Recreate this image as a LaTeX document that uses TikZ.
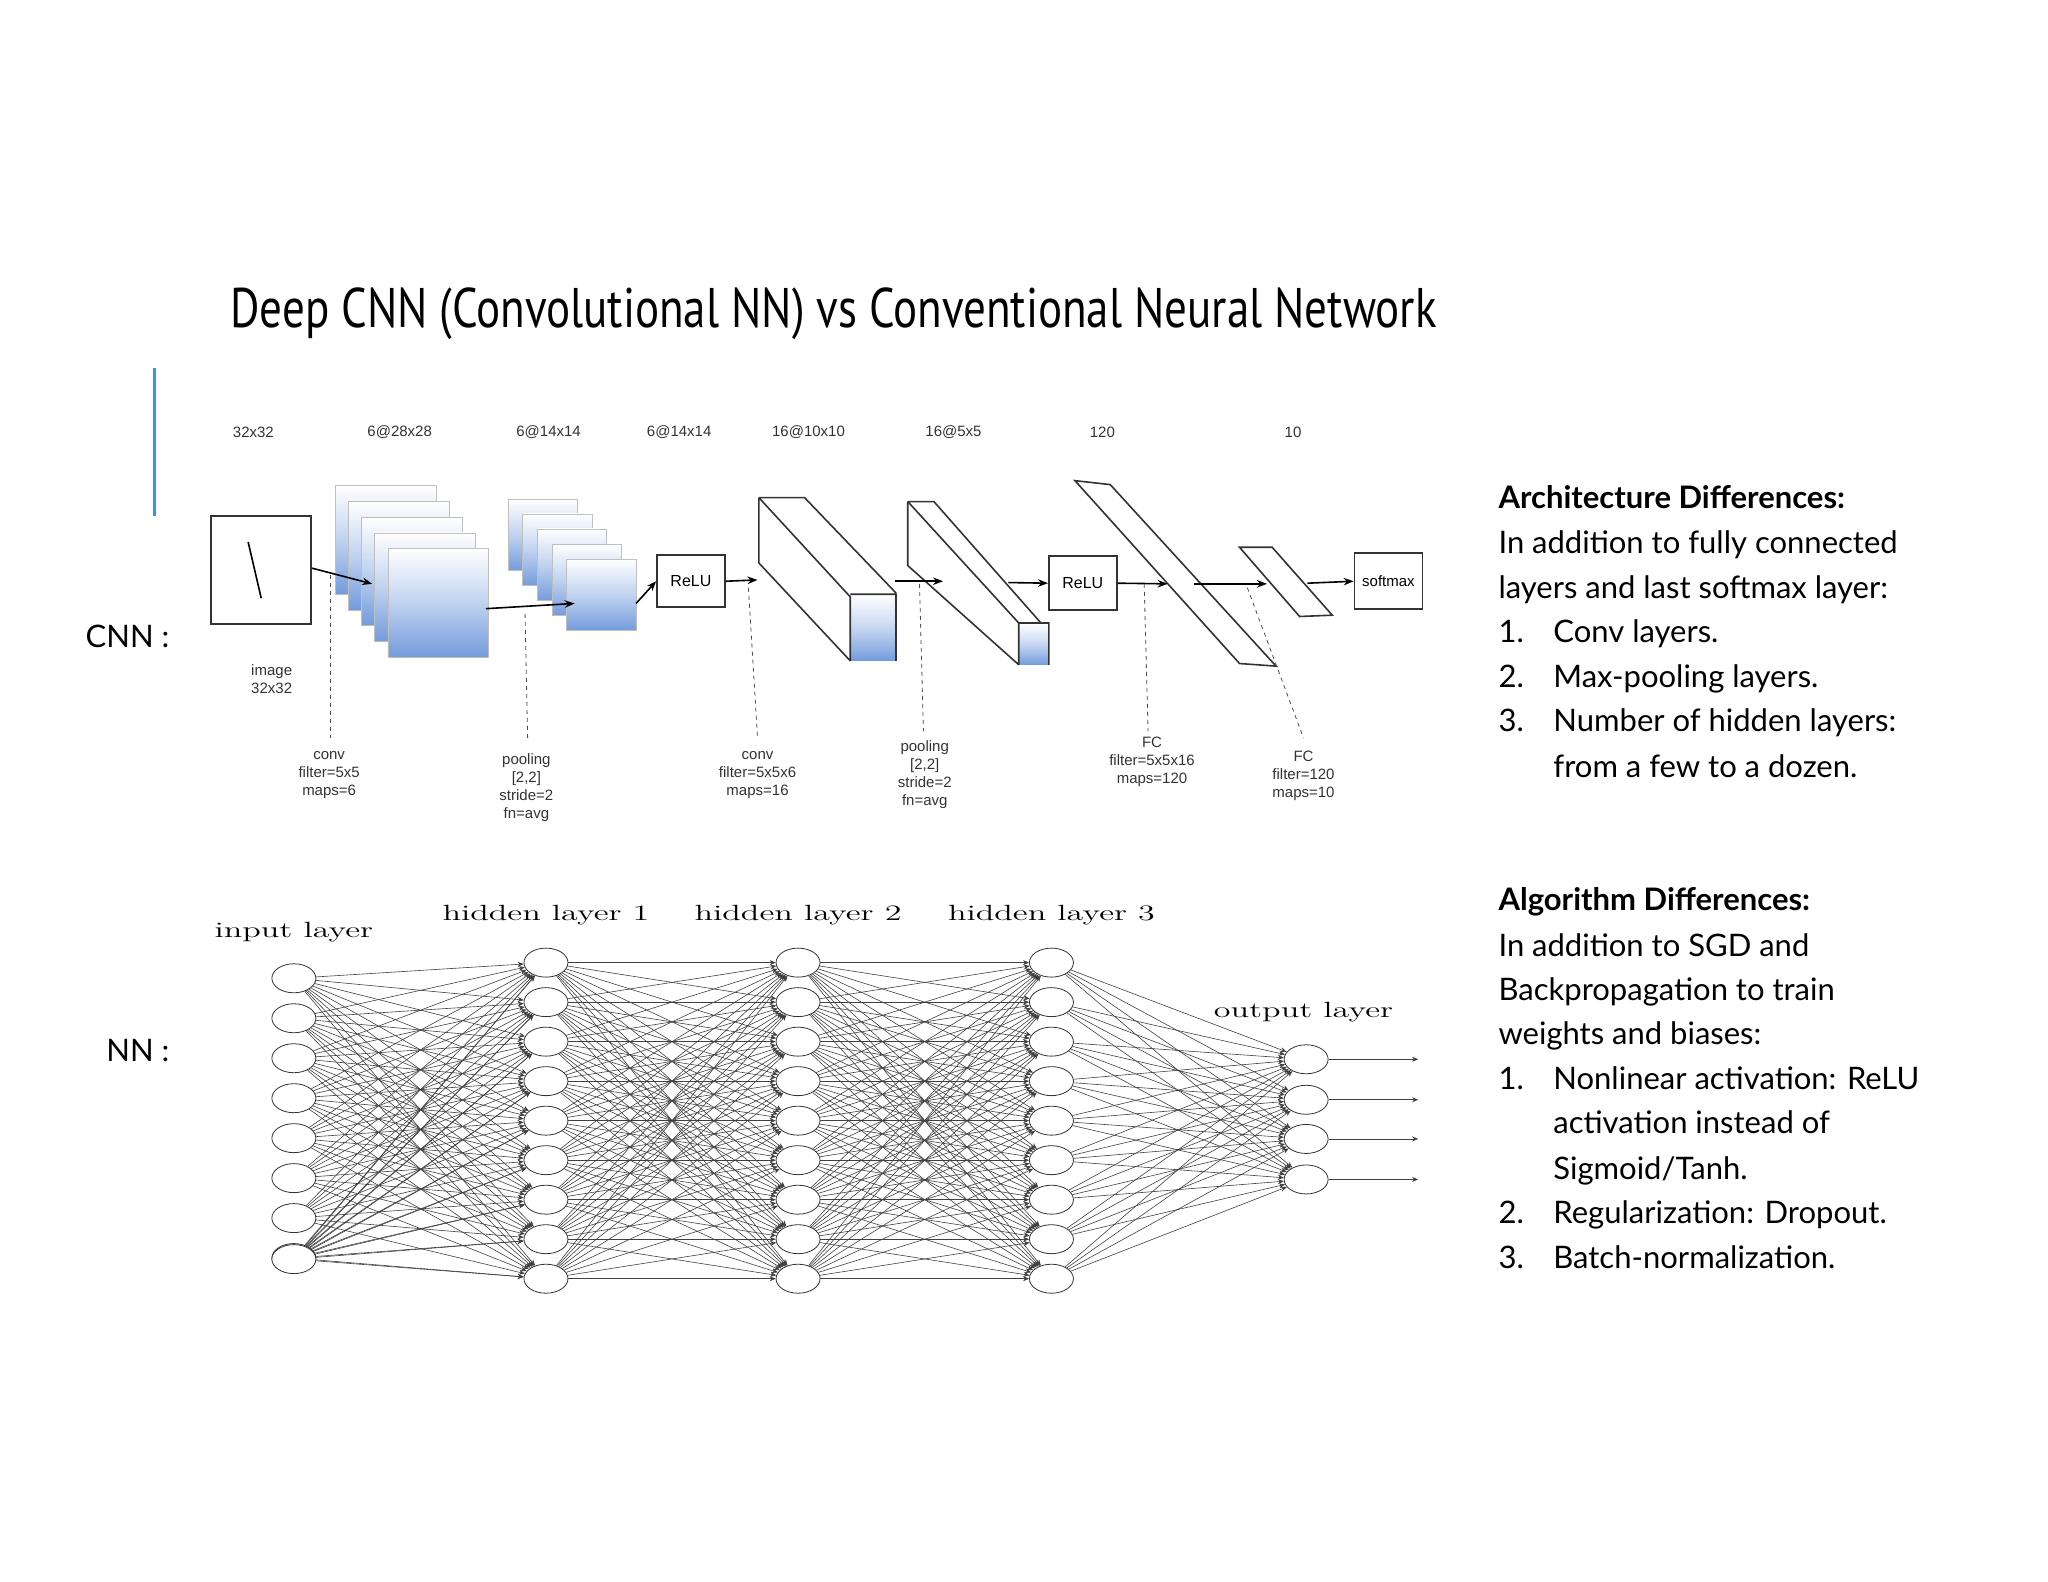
\documentclass[tikz,border=0pt]{standalone}
\usepackage{fontspec}
\usepackage{graphicx}
\usetikzlibrary{shapes.geometric,arrows.meta,positioning}
\newfontfamily\gothic{Lato}
\newfontfamily\helv{Liberation Sans}
\newfontfamily\titlefont{PT Sans}
\definecolor{cardblue}{RGB}{115,155,220}
\definecolor{slideblue}{RGB}{40,160,220}
\begin{document}
\begin{tikzpicture}[
	x=0.653pt, y=-0.653pt,
	boxnode/.style={shape=rectangle, draw=black!80, thick, inner sep=0pt},
	small/.style={font=\helv\fontsize{7.5}{9}\selectfont, align=center, text=black!80},
	neuron/.style={shape=ellipse, draw=black!80, fill=white, minimum width=22pt, minimum height=14.5pt, inner sep=0pt},
	layerlabel/.style={font=\rmfamily\fontsize{11}{11}\selectfont},
	side/.style={font=\gothic\fontsize{15.5}{15.5}\selectfont, anchor=base west, inner sep=0pt},
	flow/.style={thick, -{Stealth[length=5pt]}},
	link/.style={line width=0.3pt, black!75, -{Stealth[length=3pt,width=2.5pt]}},
	guide/.style={thin, black!70, dash pattern=on 2pt off 2pt},
] 
\useasboundingbox (0,0) rectangle (1568,1211);

% title and side labels
\node[anchor=west, inner sep=0pt] (title) at (176,240) {\resizebox*{603pt}{26pt}{\titlefont Deep CNN (Convolutional NN) vs Conventional Neural Network}};
\draw[slideblue, line width=1.5pt] (118,282) -- (118,395);
\node[side, anchor=base east] (cnnlbl) at (130,496) {CNN :};
\node[side, anchor=base east] (nnlbl) at (130,813) {NN :};

% CNN: sizes on top
\foreach \x/\t in {194/32x32, 306/6@28x28, 420/6@14x14, 520/6@14x14, 619/16@10x10, 730/16@5x5, 844/120, 990/10}
  \node[small] at (\x,331) {\t};

% input image
\node[boxnode, minimum width=50pt, minimum height=54pt] (img) at (200,436.5) {};
\draw[thick] (190,415) -- (200,458);
\node[small] (imglbl) at (208,520) {image\\32x32};

% conv maps and pooled maps
\foreach \i in {0,...,4}
  \shade[top color=white, bottom color=cardblue, middle color=white!55!cardblue, draw=black!25]
    (257+10*\i,372+12*\i) rectangle ++(77,83);
\foreach \i in {0,...,4}
  \shade[top color=white, bottom color=cardblue, middle color=white!55!cardblue, draw=black!25]
    (389+11.25*\i,382+11.5*\i) rectangle ++(53,55);
\coordinate (c1in) at (285,447);
\coordinate (c1out) at (372,466);
\coordinate (p1in) at (440,462);
\coordinate (p1out) at (487,462);
\draw[flow] (img.east |- 0,435) -- (c1in);
\draw[flow] (c1out) -- (p1in);

\node[boxnode, minimum width=34pt, minimum height=26pt, font=\helv\fontsize{8}{8}\selectfont] (relua) at (529,445) {ReLU};
\draw[flow] (p1out) -- (relua.west);

% second conv block
\shade[top color=white, bottom color=cardblue, middle color=white!60!cardblue] (651,455) rectangle (686,506);
\draw[thick, black!80] (581,381) -- (616,381) -- (686,454) (581,381) -- (581,431) -- (651,506)
  (581,381) -- (651,457) -- (651,506) (651,455) -- (686,455) -- (686,506);
\coordinate (c2in) at (580,444);
\draw[flow] (relua.east) -- (c2in);

% second pooling block
\shade[top color=white, bottom color=cardblue, middle color=white!60!cardblue] (780,477) rectangle (803,509);
\draw[thick, black!80] (695,384) -- (715,384) -- (797,477) (695,384) -- (695,433) -- (780,509)
  (695,384) -- (780,477) -- (780,509) (780,477) -- (803,477) -- (803,509);
\coordinate (c2out) at (685,445);
\coordinate (p2in) at (722,445);
\coordinate (p2out) at (772,446);
\draw[flow] (c2out) -- (p2in);

\node[boxnode, minimum width=34pt, minimum height=27pt, font=\helv\fontsize{8}{8}\selectfont] (relub) at (829,446.5) {ReLU};
\draw[flow] (p2out) -- (relub.west);

% fully connected layers
\draw[thick, black!80] (823,368) -- (850,371) -- (977,510) -- (949,508) -- cycle;
\draw[thick, black!80] (949,419) -- (974,419) -- (1020,471) -- (995,472) -- cycle;
\coordinate (f1in) at (894,447);
\coordinate (f1out) at (914,447);
\coordinate (f2in) at (970,447);
\coordinate (f2out) at (1001,446.5);
\draw[flow] (relub.east) -- (f1in);
\draw[flow] (f1out) -- (f2in);

\node[boxnode, minimum width=34pt, minimum height=28pt, font=\helv\fontsize{7.5}{7.5}\selectfont] (soft) at (1063,445) {softmax};
\draw[flow] (f2out) -- (soft.west);

% dotted guides and descriptions
\draw[guide] (253,440) -- (253,565);
\draw[guide] (402,470) -- (404,567);
\draw[guide] (573,450) -- (580,565);
\draw[guide] (704,447) -- (707,560);
\draw[guide] (876,447) -- (879,560);
\draw[guide] (955,450) -- (998,565);
\node[small] (d1) at (252,593) {conv\\filter=5x5\\maps=6};
\node[small] (d2) at (403,603) {pooling\\{[2,2]}\\stride=2\\fn=avg};
\node[small] (d3) at (580,593) {conv\\filter=5x5x6\\maps=16};
\node[small] (d4) at (708,593) {pooling\\{[2,2]}\\stride=2\\fn=avg};
\node[small] (d5) at (882,583) {FC\\filter=5x5x16\\maps=120};
\node[small] (d6) at (998,594) {FC\\filter=120\\maps=10};

% NN: layers
\foreach \i in {1,...,8}
  \node[neuron] (in\i) at (225,749+30.6*\i-30.6) {};
\node[neuron] (in9) at (225,964) {};
\foreach \l/\x in {1/418, 2/611, 3/805}
  \foreach \i in {1,...,9}
    \node[neuron] (h\l-\i) at (\x,737+30.25*\i-30.25) {};
\foreach \i/\y in {1/811, 2/842, 3/872, 4/903}
  \node[neuron] (out\i) at (1000,\y) {};

\foreach \i in {1,...,9}
  \foreach \j in {1,...,9} {
    \draw[link] (in\i) -- (h1-\j);
    \draw[link] (h1-\i) -- (h2-\j);
    \draw[link] (h2-\i) -- (h3-\j);
  }
\foreach \i in {1,...,9}
  \foreach \j in {1,...,4}
    \draw[link] (h3-\i) -- (out\j);
\foreach \j in {1,...,4} {
  \coordinate (end\j) at ([xshift=56pt]out\j.center);
  \draw[link] (out\j) -- (end\j);
}

\node[layerlabel] (lin) at (225,714) {\scalebox{1.55}[1]{input layer}};
\node[layerlabel] (lh1) at (418,701) {\scalebox{1.55}[1]{hidden layer 1}};
\node[layerlabel] (lh2) at (611,701) {\scalebox{1.55}[1]{hidden layer 2}};
\node[layerlabel] (lh3) at (805,701) {\scalebox{1.55}[1]{hidden layer 3}};
\node[layerlabel] (lout) at (998,775) {\scalebox{1.55}[1]{output layer}};

% right-hand notes
\node[side] (arch) at (1147,389) {\bfseries Architecture Differences:};
\node[side] at (1147,424) {In addition to fully connected};
\node[side] at (1147,458) {layers and last softmax layer:};
\foreach \n/\y/\t in {1/492/Conv layers., 2/526/Max-pooling layers., 3/560/Number of hidden layers:} {
  \node[side] at (1147,\y) {\n.};
  \node[side] at (1189,\y) {\t};
}
\node[side] at (1189,595) {from a few to a dozen.};

\node[side] (algo) at (1147,697) {\bfseries Algorithm Differences:};
\node[side] at (1147,732) {In addition to SGD and};
\node[side] at (1147,766) {Backpropagation to train};
\node[side] at (1147,800) {weights and biases:};
\node[side] at (1147,834) {1.};
\node[side] at (1189,834) {Nonlinear activation: ReLU};
\node[side] at (1189,868) {activation instead of};
\node[side] at (1189,903) {Sigmoid/Tanh.};
\node[side] at (1147,937) {2.};
\node[side] at (1189,937) {Regularization: Dropout.};
\node[side] at (1147,971) {3.};
\node[side] at (1189,971) {Batch-normalization.};
\end{tikzpicture}
\end{document}
